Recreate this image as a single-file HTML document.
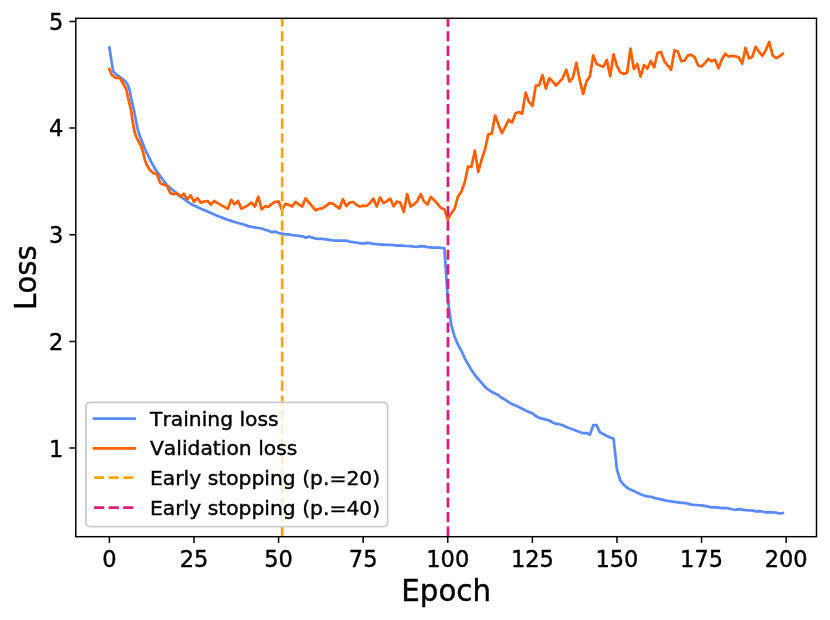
<!DOCTYPE html>
<html><head><meta charset="utf-8"><title>Loss curves</title>
<style>html,body{margin:0;padding:0;background:#fff;width:830px;height:620px;overflow:hidden}svg{display:block;font-kerning:none}text{stroke:#000;stroke-width:0.4px;paint-order:stroke}</style>
</head><body>
<svg width="830" height="620" viewBox="0 0 830 620"><rect x="0" y="0" width="830" height="620" fill="#ffffff"/><defs><clipPath id="ax"><rect x="75.8" y="18.3" width="740.7" height="518.4000000000001"/></clipPath></defs><g clip-path="url(#ax)" fill="none" stroke-width="2.75" stroke-linejoin="round" stroke-linecap="square"><polyline points="109.40,47.60 113.10,71.20 116.90,74.90 120.80,77.60 125.30,81.40 127.90,85.00 129.80,90.80 131.20,98.30 133.90,110.00 135.80,119.70 137.70,129.40 140.40,137.50 141.90,141.00 145.20,149.70 148.40,156.10 151.60,162.60 154.80,168.40 157.40,172.30 162.60,179.40 163.54,180.60 166.92,185.00 170.31,188.10 173.69,190.80 177.07,193.60 180.46,196.40 183.84,199.00 187.23,201.50 190.61,203.70 193.99,205.50 197.38,207.10 200.76,208.70 204.14,210.10 207.53,211.50 210.91,213.00 214.29,214.40 217.68,215.90 221.06,217.30 224.45,218.60 227.83,219.70 231.21,220.90 234.60,222.00 237.98,223.00 241.36,223.80 244.75,224.90 248.13,226.10 251.52,226.90 254.90,227.40 258.28,228.00 261.67,228.50 265.05,229.70 268.43,230.80 271.82,232.20 275.20,231.60 278.59,233.00 281.97,233.60 285.35,234.40 288.74,234.40 292.12,235.20 295.50,235.50 298.89,235.90 302.27,236.30 305.65,237.60 309.04,236.70 312.42,237.60 315.81,238.60 319.19,238.80 322.57,238.90 325.96,239.30 329.34,239.80 332.72,240.40 336.11,240.60 339.49,240.70 342.88,240.70 346.26,240.70 349.64,241.60 353.03,242.20 356.41,242.70 359.79,243.10 363.18,243.60 366.56,242.80 369.94,243.20 373.33,243.80 376.71,244.20 380.10,244.60 383.48,244.70 386.86,244.80 390.25,244.90 393.63,245.10 397.01,245.60 400.40,245.30 403.78,245.90 407.17,246.00 410.55,246.10 413.93,246.60 417.32,246.80 420.70,246.20 424.08,246.40 427.47,247.10 430.85,247.40 434.24,247.70 437.62,247.70 441.00,247.90 444.39,248.20 447.77,299.00 451.15,324.40 454.54,336.50 457.92,344.50 461.30,350.50 464.69,358.10 468.07,364.30 471.46,369.90 474.84,375.00 478.22,379.00 481.61,382.90 484.99,386.90 488.37,389.70 491.76,391.90 495.14,393.60 498.53,395.30 501.91,398.10 505.29,399.80 508.68,402.10 512.06,404.10 515.44,405.60 518.83,407.10 522.21,408.80 525.60,410.50 528.98,412.10 532.36,413.30 535.75,416.10 539.13,417.80 542.51,418.60 545.90,419.60 549.28,420.50 552.66,422.50 556.05,423.90 559.43,424.20 562.82,425.20 566.20,427.00 569.58,428.20 572.97,429.50 576.35,430.80 579.73,432.00 583.12,433.20 586.50,433.00 589.89,434.60 593.27,425.20 596.65,425.20 600.04,432.60 603.42,434.00 606.80,436.00 610.19,437.40 613.57,438.80 616.96,469.70 620.34,480.50 623.72,484.80 627.11,487.70 630.49,489.60 633.87,491.00 637.26,492.70 640.64,494.20 644.02,495.60 647.41,496.40 650.79,496.70 654.18,497.80 657.56,498.60 660.94,499.30 664.33,500.10 667.71,500.80 671.09,501.35 674.48,501.90 677.86,502.30 681.25,502.80 684.63,502.90 688.01,503.60 691.40,504.70 694.78,505.00 698.16,505.20 701.55,505.30 704.93,505.90 708.31,506.70 711.70,507.30 715.08,507.20 718.47,507.60 721.85,508.20 725.23,507.85 728.62,508.50 732.00,509.25 735.38,509.90 738.77,509.20 742.15,509.70 745.54,510.20 748.92,510.50 752.30,510.40 755.69,511.30 759.07,511.10 762.45,511.50 765.84,512.30 769.22,512.10 772.61,512.30 775.99,512.60 779.37,513.50 782.76,513.00" stroke="#5a8aff"/><polyline points="109.40,69.00 111.90,75.20 115.60,77.90 119.50,77.60 123.40,84.00 126.30,89.30 128.10,98.10 131.00,110.00 132.40,119.70 134.40,131.30 136.80,138.10 139.50,143.00 141.30,146.50 143.20,152.90 144.80,159.40 146.50,164.50 149.70,169.70 153.40,173.40 156.77,173.60 160.16,183.00 163.54,184.70 166.92,185.80 170.31,193.10 173.69,194.30 177.07,193.10 180.46,196.50 183.84,193.70 187.23,199.40 190.61,195.40 193.99,201.60 197.38,198.20 200.76,202.70 204.14,201.60 207.53,201.00 210.91,204.50 214.29,201.00 217.68,203.10 221.06,205.10 224.45,206.90 227.83,208.80 231.21,199.80 234.60,204.30 237.98,200.90 241.36,208.80 244.75,207.10 248.13,205.10 251.52,202.60 254.90,206.50 258.28,196.70 261.67,209.40 265.05,206.20 268.43,206.90 271.82,203.90 275.20,201.80 278.59,201.50 281.97,209.60 285.35,203.90 288.74,204.80 292.12,206.50 295.50,202.00 298.89,204.30 302.27,206.50 305.65,198.30 309.04,202.60 312.42,206.50 315.81,210.30 319.19,208.80 322.57,208.20 325.96,206.00 329.34,203.10 332.72,203.50 336.11,206.20 339.49,208.50 342.88,199.20 346.26,206.00 349.64,202.60 353.03,202.00 356.41,204.80 359.79,206.50 363.18,205.70 366.56,206.00 369.94,203.10 373.33,198.60 376.71,206.50 380.10,197.50 383.48,203.10 386.86,201.20 390.25,198.60 393.63,206.20 397.01,201.50 400.40,202.80 403.78,212.00 407.17,194.10 410.55,206.50 413.93,204.30 417.32,201.20 420.70,194.10 424.08,201.50 427.47,204.60 430.85,196.90 434.24,200.30 437.62,203.90 441.00,208.00 444.39,209.30 447.77,219.40 451.15,213.60 454.54,209.00 457.92,196.70 461.30,191.80 464.69,182.50 468.07,166.50 471.46,167.00 474.84,150.60 478.22,171.90 481.61,159.70 484.99,149.50 488.37,134.30 491.76,133.70 495.14,115.60 498.53,124.70 501.91,133.10 505.29,126.90 508.68,119.90 512.06,122.50 515.44,113.50 518.83,112.00 522.21,113.70 525.60,92.80 528.98,101.90 532.36,106.00 535.75,85.70 539.13,85.30 542.51,75.10 545.90,88.60 549.28,78.10 552.66,81.50 556.05,85.50 559.43,81.90 562.82,78.10 566.20,69.70 569.58,81.50 572.97,77.60 576.35,62.80 579.73,80.00 583.12,93.80 586.50,81.40 589.89,76.30 593.27,55.40 596.65,63.90 600.04,65.60 603.42,66.70 606.80,59.90 610.19,76.30 613.57,54.30 616.96,66.10 620.34,72.30 623.72,74.00 627.11,72.70 630.49,48.60 633.87,69.00 637.26,63.90 640.64,76.60 644.02,65.00 647.41,68.50 650.79,61.10 654.18,67.30 657.56,53.00 660.94,51.90 664.33,61.10 667.71,65.60 671.09,69.60 674.48,50.40 677.86,51.50 681.25,61.10 684.63,60.60 688.01,55.30 691.40,54.80 694.78,57.40 698.16,65.60 701.55,66.40 704.93,63.10 708.31,58.90 711.70,61.30 715.08,59.80 718.47,68.25 721.85,59.50 725.23,53.70 728.62,56.50 732.00,55.80 735.38,56.40 738.77,57.40 742.15,63.70 745.54,48.00 748.92,58.40 752.30,56.70 755.69,46.80 759.07,51.90 762.45,55.80 765.84,50.10 769.22,41.90 772.61,55.20 775.99,58.10 779.37,56.40 782.76,53.80" stroke="#ff6000"/><line x1="282.17" y1="536.7" x2="282.17" y2="18.3" stroke="#ffa500" stroke-dasharray="10.17 4.40" stroke-linecap="butt"/><line x1="447.97" y1="536.7" x2="447.97" y2="18.3" stroke="#dd1c77" stroke-dasharray="10.17 4.40" stroke-linecap="butt"/></g><rect x="75.8" y="18.3" width="740.70" height="518.40" fill="none" stroke="#000" stroke-width="1.47" stroke-linejoin="miter"/><path d="M109.40,536.7V543.10M193.99,536.7V543.10M278.59,536.7V543.10M363.18,536.7V543.10M447.77,536.7V543.10M532.36,536.7V543.10M616.96,536.7V543.10M701.55,536.7V543.10M786.14,536.7V543.10M75.8,448.10H69.40M75.8,341.43H69.40M75.8,234.76H69.40M75.8,128.09H69.40M75.8,21.42H69.40" stroke="#000" stroke-width="1.47" fill="none"/><g font-family="'DejaVu Sans', 'Liberation Sans', sans-serif" font-size="22.5" fill="#000"><text x="109.40" y="566.5" text-anchor="middle">0</text><text x="193.99" y="566.5" text-anchor="middle">25</text><text x="278.59" y="566.5" text-anchor="middle">50</text><text x="363.18" y="566.5" text-anchor="middle">75</text><text x="447.77" y="566.5" text-anchor="middle">100</text><text x="532.36" y="566.5" text-anchor="middle">125</text><text x="616.96" y="566.5" text-anchor="middle">150</text><text x="701.55" y="566.5" text-anchor="middle">175</text><text x="786.14" y="566.5" text-anchor="middle">200</text><text x="63.4" y="456.50" text-anchor="end">1</text><text x="63.4" y="349.83" text-anchor="end">2</text><text x="63.4" y="243.16" text-anchor="end">3</text><text x="63.4" y="136.49" text-anchor="end">4</text><text x="63.4" y="29.82" text-anchor="end">5</text></g><text x="446.15" y="600.5" text-anchor="middle" font-family="'DejaVu Sans', 'Liberation Sans', sans-serif" font-size="29.3" fill="#000">Epoch</text><text transform="translate(35.9,277.50) rotate(-90)" x="0" y="0" text-anchor="middle" font-family="'DejaVu Sans', 'Liberation Sans', sans-serif" font-size="29.3" fill="#000">Loss</text><rect x="85.95" y="402.3" width="301.6" height="124.3" rx="4.06" ry="4.06" fill="#ffffff" fill-opacity="0.8" stroke="#cccccc" stroke-width="1.83"/><line x1="94.07" y1="418.7" x2="134.67" y2="418.7" stroke="#5a8aff" stroke-width="2.75" stroke-linecap="square"/><text x="150.0" y="425.8" font-family="'DejaVu Sans', 'Liberation Sans', sans-serif" font-size="20.3" fill="#000">Training loss</text><line x1="94.07" y1="448.4" x2="134.67" y2="448.4" stroke="#ff6000" stroke-width="2.75" stroke-linecap="square"/><text x="150.0" y="455.3" font-family="'DejaVu Sans', 'Liberation Sans', sans-serif" font-size="20.3" fill="#000">Validation loss</text><line x1="94.07" y1="477.7" x2="134.67" y2="477.7" stroke="#ffa500" stroke-width="2.75" stroke-dasharray="10.17 4.40" stroke-linecap="butt"/><text x="150.0" y="484.8" font-family="'DejaVu Sans', 'Liberation Sans', sans-serif" font-size="20.3" fill="#000">Early stopping (p.=20)</text><line x1="94.07" y1="507.6" x2="134.67" y2="507.6" stroke="#dd1c77" stroke-width="2.75" stroke-dasharray="10.17 4.40" stroke-linecap="butt"/><text x="150.0" y="514.7" font-family="'DejaVu Sans', 'Liberation Sans', sans-serif" font-size="20.3" fill="#000">Early stopping (p.=40)</text></svg>
</body></html>
